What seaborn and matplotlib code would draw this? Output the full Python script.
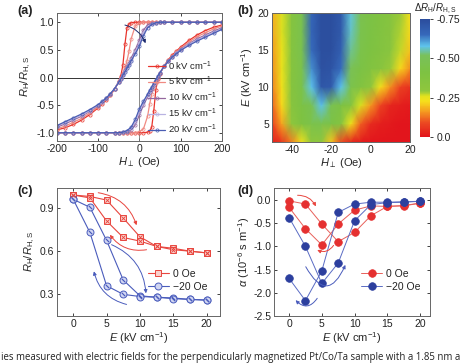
import matplotlib
matplotlib.use('Agg')
import matplotlib.pyplot as plt
import numpy as np
import pandas as pd
import seaborn as sns
from matplotlib.colors import LinearSegmentedColormap

# ---- (a) Hall loops, upper (sweep down) and lower (sweep up) branches ----
h_top = [-200, -180, -160, -140, -120, -100, -90, -80, -70, -60, -50, -45, -40, -35, -30, -25, -20,
         -10, 0, 10, 20, 30, 40, 50, 60, 80, 100, 120, 140, 160, 180, 200]
h_bot = [-200, -180, -160, -140, -120, -100, -80, -60, -50, -40, -30, -20, -10, 0, 10, 20, 25,
         30, 35, 40, 45, 50, 60, 70, 80, 90, 100, 120, 140, 160, 180, 200]

r_top_0 = [-0.95, -0.91, -0.85, -0.77, -0.67, -0.55, -0.48, -0.41, -0.32, -0.21, -0.07, 0.03, 0.22, 0.6,
           0.9, 0.97, 0.99] + [1.0] * 15
r_top_5 = [-0.93, -0.88, -0.81, -0.74, -0.64, -0.53, -0.46, -0.39, -0.31, -0.21, -0.08, 0.0, 0.08, 0.17,
           0.3, 0.48, 0.7, 0.93, 0.98] + [1.0] * 13
r_top_10 = [-0.9, -0.84, -0.77, -0.7, -0.61, -0.51, -0.45, -0.38, -0.3, -0.2, -0.08, -0.01, 0.06, 0.13,
            0.2, 0.27, 0.35, 0.5, 0.68, 0.86, 0.95, 0.98, 0.99] + [1.0] * 9
r_top_15 = [-0.88, -0.82, -0.75, -0.68, -0.6, -0.5, -0.44, -0.37, -0.29, -0.2, -0.08, -0.02, 0.05, 0.11,
            0.18, 0.24, 0.31, 0.46, 0.62, 0.8, 0.92, 0.97, 0.99] + [1.0] * 9
r_top_20 = [-0.87, -0.8, -0.73, -0.66, -0.58, -0.49, -0.43, -0.37, -0.29, -0.2, -0.09, -0.03, 0.04, 0.1,
            0.17, 0.23, 0.3, 0.43, 0.57, 0.76, 0.9, 0.96, 0.99] + [1.0] * 9

r_bot_0 = [-1.0] * 15 + [-0.99, -0.97, -0.9, -0.6, -0.22, -0.03, 0.07, 0.21, 0.32, 0.41, 0.48, 0.55,
                         0.67, 0.77, 0.85, 0.91, 0.95]
r_bot_5 = [-1.0] * 13 + [-0.98, -0.93, -0.7, -0.48, -0.3, -0.17, -0.08, 0.0, 0.08, 0.21, 0.31, 0.39,
                         0.46, 0.53, 0.64, 0.74, 0.81, 0.88, 0.93]
r_bot_10 = [-1.0] * 9 + [-0.99, -0.98, -0.95, -0.86, -0.68, -0.5, -0.35, -0.27, -0.2, -0.13, -0.06, 0.01,
                         0.08, 0.2, 0.3, 0.38, 0.45, 0.51, 0.61, 0.7, 0.77, 0.84, 0.9]
r_bot_15 = [-1.0] * 9 + [-0.99, -0.97, -0.92, -0.8, -0.62, -0.46, -0.31, -0.24, -0.18, -0.11, -0.05, 0.02,
                         0.08, 0.2, 0.29, 0.37, 0.44, 0.5, 0.6, 0.68, 0.75, 0.82, 0.88]
r_bot_20 = [-1.0] * 9 + [-0.99, -0.96, -0.9, -0.76, -0.57, -0.43, -0.3, -0.23, -0.17, -0.1, -0.04, 0.03,
                         0.09, 0.2, 0.29, 0.37, 0.43, 0.49, 0.58, 0.66, 0.73, 0.8, 0.87]

loop_labels = ['0 kV cm$^{-1}$', '5 kV cm$^{-1}$', '10 kV cm$^{-1}$', '15 kV cm$^{-1}$', '20 kV cm$^{-1}$']
loop_colors = ['#e8342c', '#f08a82', '#94679e', '#b9b3e2', '#4a5db3']

# ---- (b) map of dR_H/R_H,S over H and E ----
h_map = [-50, -45, -40, -35, -30, -25, -20, -15, -10, -5, 0, 5, 10, 15, 20]
e_map = [2.5, 5, 7.5, 10, 12.5, 15, 17.5, 20]
dr_e2_5 = [-0.02, -0.06, -0.14, -0.24, -0.3, -0.3, -0.2, -0.09, -0.03, -0.01, 0, 0, 0, 0, 0]
dr_e5 = [-0.07, -0.17, -0.3, -0.4, -0.45, -0.46, -0.43, -0.36, -0.24, -0.11, -0.04, -0.02, -0.01, 0, 0]
dr_e7_5 = [-0.11, -0.22, -0.34, -0.42, -0.48, -0.58, -0.48, -0.42, -0.35, -0.26, -0.16, -0.08, -0.03, -0.02, -0.01]
dr_e10 = [-0.14, -0.24, -0.35, -0.44, -0.58, -0.71, -0.7, -0.58, -0.46, -0.38, -0.3, -0.23, -0.15, -0.08, -0.05]
dr_e12_5 = [-0.15, -0.25, -0.35, -0.45, -0.62, -0.73, -0.72, -0.65, -0.5, -0.43, -0.38, -0.34, -0.29, -0.22, -0.15]
dr_e15 = [-0.16, -0.25, -0.36, -0.46, -0.65, -0.74, -0.74, -0.68, -0.54, -0.45, -0.41, -0.37, -0.33, -0.27, -0.2]
dr_e17_5 = [-0.17, -0.26, -0.36, -0.46, -0.66, -0.74, -0.74, -0.7, -0.56, -0.46, -0.42, -0.38, -0.34, -0.28, -0.22]
dr_e20 = [-0.18, -0.26, -0.36, -0.46, -0.66, -0.74, -0.74, -0.7, -0.57, -0.47, -0.43, -0.39, -0.35, -0.29, -0.23]

# ---- (c) and (d) E sweeps, increasing / decreasing ----
e_sweep = [0, 2.5, 5, 7.5, 10, 12.5, 15, 17.5, 20]
rc_0oe_up = [0.99, 0.98, 0.955, 0.83, 0.70, 0.633, 0.62, 0.60, 0.588]
rc_0oe_down = [0.99, 0.97, 0.81, 0.695, 0.67, 0.633, 0.61, 0.60, 0.588]
rc_20oe_up = [0.96, 0.905, 0.675, 0.40, 0.29, 0.28, 0.275, 0.265, 0.26]
rc_20oe_down = [0.96, 0.73, 0.36, 0.30, 0.285, 0.28, 0.27, 0.265, 0.26]

al_0oe_up = [-0.02, -0.09, -0.52, -0.9, -0.70, -0.34, -0.14, -0.13, -0.07]
al_0oe_down = [-0.16, -0.62, -0.97, -0.52, -0.22, -0.13, -0.14, -0.12, -0.07]
al_20oe_up = [-0.38, -1.0, -1.8, -1.36, -0.45, -0.1, -0.06, -0.05, -0.03]
al_20oe_down = [-1.69, -2.17, -1.53, -0.27, -0.09, -0.05, -0.05, -0.04, -0.03]

RED = '#e8453e'
BLUE = '#4a5cbc'

sns.set_theme(style='ticks')
plt.rcParams['font.family'] = ['Liberation Sans', 'DejaVu Sans']
plt.rcParams['mathtext.fontset'] = 'custom'
plt.rcParams['mathtext.rm'] = 'Liberation Sans'
plt.rcParams['mathtext.it'] = 'Liberation Sans:italic'
plt.rcParams['axes.unicode_minus'] = False
plt.rcParams['text.color'] = '#222222'

fig = plt.figure(figsize=(4.74, 3.64), dpi=100)
ax_a = fig.add_axes([0.120, 0.6126, 0.348, 0.352])
ax_b = fig.add_axes([0.574, 0.610, 0.291, 0.354])
cax = fig.add_axes([0.886, 0.624, 0.021, 0.324])
ax_c = fig.add_axes([0.120, 0.132, 0.344, 0.352])
ax_d = fig.add_axes([0.578, 0.132, 0.329, 0.352])


def style_ax(ax):
    ax.tick_params(direction='in', length=2.5, width=0.6, top=True, right=True,
                   labelsize=7.5, pad=2, colors='#222222')
    for s in ax.spines.values():
        s.set_color('#666666')
        s.set_linewidth(0.7)


def guide(ax, start, end, color, rad):
    ax.annotate('', xy=end, xytext=start,
                arrowprops=dict(arrowstyle='-|>', color=color, lw=0.7, mutation_scale=5,
                                shrinkA=0, shrinkB=0, connectionstyle=f'arc3,rad={rad}'))


# (a)
ax_a.axhline(0, color='#333333', lw=0.7, zorder=1)
ax_a.axvline(0, color='#777777', lw=0.6, zorder=1)
tops = [r_top_0, r_top_5, r_top_10, r_top_15, r_top_20]
bots = [r_bot_0, r_bot_5, r_bot_10, r_bot_15, r_bot_20]
handles = []
for top, bot, col in zip(tops, bots, loop_colors):
    for branch_h, branch_r in ((h_top, top), (h_bot, bot)):
        sns.lineplot(x=branch_h, y=branch_r, ax=ax_a, sort=False, estimator=None, color=col,
                     lw=0.9, marker='o', markersize=2.3, markerfacecolor='none',
                     markeredgecolor=col, markeredgewidth=0.5)
    handles.append(ax_a.lines[-1])
leg = ax_a.legend(handles, loop_labels, loc='lower right', frameon=False, fontsize=6.8,
                  handlelength=1.8, handletextpad=0.3, labelspacing=0.28, borderaxespad=0.1)
guide(ax_a, (-35, 0.95), (15, 0.62), '#1c2a6e', -0.25)
ax_a.set_xlim(-200, 200)
ax_a.set_ylim(-1.15, 1.17)
ax_a.set_xticks([-200, -100, 0, 100, 200])
ax_a.set_yticks([-1.0, -0.5, 0.0, 0.5, 1.0])
ax_a.set_xlabel(r'$H_{\perp}$ (Oe)', fontsize=8, labelpad=1)
ax_a.set_ylabel(r'$R_{\rm H}/R_{\rm H,S}$', fontsize=8, labelpad=2)
style_ax(ax_a)

# (b)
cmap = LinearSegmentedColormap.from_list('map', [
    (0.0, '#2b4c9c'), (0.13, '#3668ba'), (0.23, '#5fc4ec'), (0.31, '#79c15b'),
    (0.45, '#7dc242'), (0.61, '#8fc63d'), (0.66, '#e5e31d'), (0.70, '#f6df1c'),
    (0.78, '#f5a020'), (0.88, '#ec4a22'), (1.0, '#e2151c')])
dr_map = np.array([dr_e2_5, dr_e5, dr_e7_5, dr_e10, dr_e12_5, dr_e15, dr_e17_5, dr_e20])
mesh = ax_b.pcolormesh(h_map, e_map, dr_map, shading='gouraud', cmap=cmap, vmin=-0.75, vmax=0)
ax_b.set_xlim(-50, 20)
ax_b.set_ylim(2.5, 20)
ax_b.set_xticks([-40, -20, 0, 20])
ax_b.set_yticks([5, 10, 15, 20])
ax_b.set_xlabel(r'$H_{\perp}$ (Oe)', fontsize=8, labelpad=1)
ax_b.set_ylabel(r'$E$ (kV cm$^{-1}$)', fontsize=8, labelpad=2)
style_ax(ax_b)
cb = fig.colorbar(mesh, cax=cax)
cax.invert_yaxis()
cb.set_ticks([-0.75, -0.5, -0.25, 0.0])
cb.set_ticklabels(['-0.75', '-0.50', '-0.25', '0.0'])
cb.outline.set_visible(False)
cax.tick_params(length=2.5, width=0.6, labelsize=7.5, pad=2, colors='#222222')
fig.text(0.918, 0.975, r'$\Delta R_{\rm H}/R_{\rm H,S}$', fontsize=7, ha='center', va='center')

# (c)
for y_vals, col, mk, fc, lab in ((rc_0oe_up, RED, 's', '#f9d0cc', '0 Oe'),
                                 (rc_0oe_down, RED, 's', '#f9d0cc', None),
                                 (rc_20oe_up, BLUE, 'o', '#d0d5f2', '\u221220 Oe'),
                                 (rc_20oe_down, BLUE, 'o', '#d0d5f2', None)):
    sns.lineplot(x=e_sweep, y=y_vals, ax=ax_c, sort=False, estimator=None, color=col, lw=0.8,
                 marker=mk, markersize=5, markerfacecolor=fc, markeredgecolor=col,
                 markeredgewidth=0.7, label=lab)
# inner cross / slash on the open markers
for y_vals, col, mk in ((rc_0oe_up, RED, 'x'), (rc_0oe_down, RED, 'x'),
                        (rc_20oe_up, BLUE, (2, 2, 45)), (rc_20oe_down, BLUE, (2, 2, 45))):
    sns.scatterplot(x=e_sweep, y=y_vals, ax=ax_c, color=col, marker=mk, s=9, linewidth=0.6,
                    zorder=4, legend=False)
ax_c.legend(loc='upper left', bbox_to_anchor=(0.5, 0.44), frameon=False, fontsize=7.5,
            handlelength=2.0, handletextpad=0.4, labelspacing=0.3)
guide(ax_c, (3.75, 1.006), (9.5, 0.78), RED, -0.3)
guide(ax_c, (11, 0.61), (5.5, 0.714), RED, -0.3)
guide(ax_c, (5.75, 0.645), (10.9, 0.307), BLUE, -0.3)
guide(ax_c, (8, 0.23), (3.1, 0.46), BLUE, -0.3)
ax_c.set_xlim(-2.45, 22)
ax_c.set_ylim(0.15, 1.04)
ax_c.set_xticks([0, 5, 10, 15, 20])
ax_c.set_yticks([0.3, 0.6, 0.9])
ax_c.set_xlabel(r'$E$ (kV cm$^{-1}$)', fontsize=8, labelpad=1)
ax_c.set_ylabel(r'$R_{\rm H}/R_{\rm H,S}$', fontsize=8, labelpad=2)
style_ax(ax_c)

# (d)
for y_vals, col, lcol, lab in ((al_0oe_up, '#e53030', '#e8605a', '0 Oe'),
                               (al_0oe_down, '#e53030', '#e8605a', None),
                               (al_20oe_up, '#2c3f9e', '#5a6cc4', '\u221220 Oe'),
                               (al_20oe_down, '#2c3f9e', '#5a6cc4', None)):
    sns.lineplot(x=e_sweep, y=y_vals, ax=ax_d, sort=False, estimator=None, color=lcol, lw=0.7,
                 marker='o', markersize=5.5, markerfacecolor=col, markeredgecolor=col,
                 markeredgewidth=0.5, label=lab)
ax_d.legend(loc='upper left', bbox_to_anchor=(0.5, 0.44), frameon=False, fontsize=7.5,
            handlelength=2.0, handletextpad=0.4, labelspacing=0.3)
guide(ax_d, (1.3, 0.1), (4.1, -0.14), RED, -0.3)
guide(ax_d, (6.8, -0.98), (4.3, -1.08), RED, -0.4)
guide(ax_d, (2.55, -1.44), (8.6, -1.40), BLUE, 1.0)
guide(ax_d, (4.3, -2.12), (1.0, -2.16), BLUE, -0.6)
ax_d.set_xlim(-2.3, 21.5)
ax_d.set_ylim(-2.5, 0.26)
ax_d.set_xticks([0, 5, 10, 15, 20])
ax_d.set_yticks([-2.5, -2.0, -1.5, -1.0, -0.5, 0.0])
ax_d.set_xlabel(r'$E$ (kV cm$^{-1}$)', fontsize=8, labelpad=1)
ax_d.set_ylabel(r'$\alpha$ (10$^{-6}$ s m$^{-1}$)', fontsize=8, labelpad=1)
style_ax(ax_d)

for x, y, t in ((0.036, 0.985, '(a)'), (0.500, 0.985, '(b)'), (0.036, 0.493, '(c)'), (0.500, 0.493, '(d)')):
    fig.text(x, y, t, fontsize=9, fontweight='bold', va='top', ha='left')

fig.text(0.002, 0.004, 'ies measured with electric fields for the perpendicularly magnetized '
         'Pt/Co/Ta sample with a 1.85 nm a', fontsize=6.9, family=['Open Sans', 'DejaVu Sans'],
         color='#222222', ha='left', va='bottom')

fig.savefig('out.png', dpi=100)
